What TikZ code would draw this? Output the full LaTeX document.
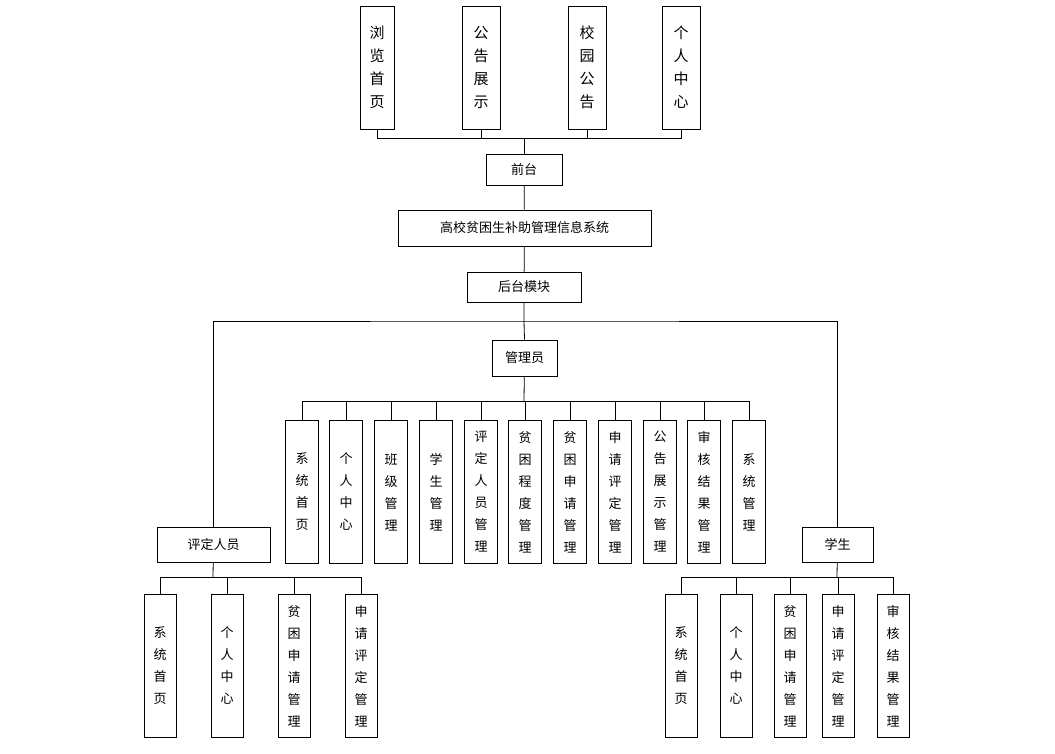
\documentclass[tikz,border=0pt]{standalone}
\usepackage{fontspec}
\setmainfont{Noto Sans CJK SC}
\begin{document}
\begin{tikzpicture}[x=1pt,y=-1pt,
 box/.style={draw,line width=0.8pt,fill=white,minimum height=36pt,font=\fontsize{13}{15}\selectfont,inner sep=2pt},
 vb/.style={draw,line width=0.8pt,fill=white,minimum width=33pt,minimum height=#1,align=center,font=\fontsize{13}{22}\selectfont,inner sep=1pt},
 vb/.default=143pt,
 tb/.style={vb=123pt,font=\fontsize{15}{23}\selectfont},
 ln/.style={line width=0.8pt}]
\useasboundingbox (0,0) rectangle (1055,753);
% top
\node[tb,minimum width=34pt] (t1) at (377,67.5) {浏\\览\\首\\页};
\node[tb,minimum width=38pt] (t2) at (481,67.5) {公\\告\\展\\示};
\node[tb,minimum width=38pt] (t3) at (587,67.5) {校\\园\\公\\告};
\node[tb,minimum width=38pt] (t4) at (681,67.5) {个\\人\\中\\心};
\coordinate (b0) at (524,138);
\node[box,minimum width=76pt,minimum height=31pt] (qt) at (524,169.5) {前台};
\node[box,minimum width=253pt] (sys) at (524.5,228) {高校贫困生补助管理信息系统};
\node[box,minimum width=114pt,minimum height=30pt] (ht) at (524,287) {后台模块};
\node[box,minimum width=65pt] (gly) at (524.5,358) {管理员};
\node[box,minimum width=113pt,minimum height=35pt] (pd) at (213.5,544.5) {评定人员};
\node[box,minimum width=71pt,minimum height=35pt] (xs) at (837.5,544.5) {学生};
\draw[ln] (t1.south) |- (t4.south |- b0) -- (t4.south);
\foreach \n in {t2,t3} \draw[ln] (\n.south) -- (\n.south |- b0);
\draw[ln] (b0) -- (qt.north);
\draw[ln] (qt) -- (sys);
\draw[ln] (sys) -- (ht);
\coordinate (b1) at (524,321);
\draw[ln] (ht) -- (b1) -- (gly.north);
\draw[ln] (pd.north) |- (b1) -| (xs.north);
% admin children
\coordinate (b2) at (524,401);
\draw[ln] (gly) -- (b2);
\foreach [count=\i] \x/\t in {302/系\\统\\首\\页,346/个\\人\\中\\心,391/班\\级\\管\\理,436/学\\生\\管\\理,481/评\\定\\人\\员\\管\\理,525/贫\\困\\程\\度\\管\\理,570/贫\\困\\申\\请\\管\\理,615/申\\请\\评\\定\\管\\理,660/公\\告\\展\\示\\管\\理,704/审\\核\\结\\果\\管\\理,749/系\\统\\管\\理}{
 \node[vb,anchor=north] (a\i) at (\x,420) {\t};
 \draw[ln] (a\i.north) -- (\x,401);
}
\draw[ln] (302,401) -- (749,401);
% left
\coordinate (b3) at (213,577);
\draw[ln] (pd) -- (b3);
\foreach [count=\i] \x/\t in {160/系\\统\\首\\页,227/个\\人\\中\\心,294/贫\\困\\申\\请\\管\\理,361/申\\请\\评\\定\\管\\理}{
 \node[vb,minimum width=32pt,anchor=north] (l\i) at (\x,594) {\t};
 \draw[ln] (l\i.north) -- (\x,577);
}
\draw[ln] (160,577) -- (361,577);
% right
\coordinate (b4) at (837,577);
\draw[ln] (xs) -- (b4);
\foreach [count=\i] \x/\t in {681/系\\统\\首\\页,736/个\\人\\中\\心,790/贫\\困\\申\\请\\管\\理,838/申\\请\\评\\定\\管\\理,893/审\\核\\结\\果\\管\\理}{
 \node[vb,minimum width=32pt,anchor=north] (r\i) at (\x,594) {\t};
 \draw[ln] (r\i.north) -- (\x,577);
}
\draw[ln] (681,577) -- (893,577);
\end{tikzpicture}
\end{document}
